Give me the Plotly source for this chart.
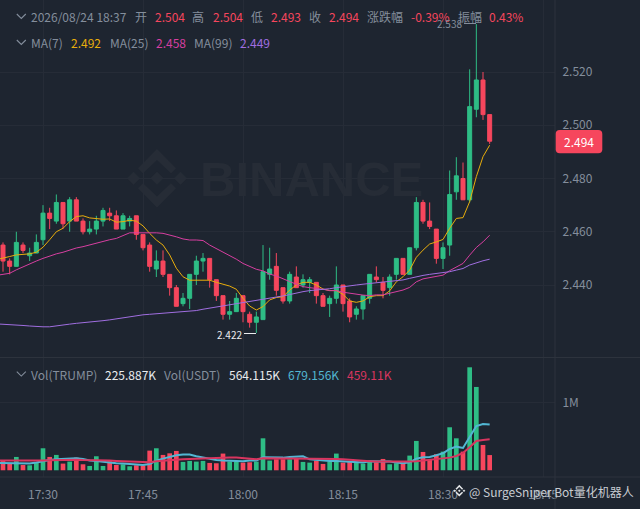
import pandas as pd
import plotly.graph_objects as go

W, H = 640, 509
FONT = 'Noto Sans CJK SC'

BG = '#1e2530'
GRID = '#262c37'
EDGE = '#2d333d'
GRAY = '#848e9c'
GREEN = '#2ebd85'
RED = '#f6465d'

# candles, one per minute from 17:24
opens = [2.455, 2.449, 2.447, 2.455, 2.451, 2.452, 2.457, 2.467, 2.464, 2.471,
         2.464, 2.472, 2.464, 2.460, 2.461, 2.464, 2.467, 2.466, 2.461, 2.464,
         2.466, 2.459, 2.455, 2.446, 2.449, 2.444, 2.439, 2.433, 2.435, 2.444,
         2.449, 2.450, 2.442, 2.436, 2.429, 2.430, 2.436, 2.429, 2.426, 2.427,
         2.444, 2.447, 2.439, 2.434, 2.443, 2.440, 2.441, 2.441, 2.436, 2.433,
         2.435, 2.440, 2.434, 2.429, 2.431, 2.435, 2.443, 2.441, 2.439, 2.444,
         2.450, 2.444, 2.454, 2.471, 2.464, 2.461, 2.450, 2.455, 2.475, 2.480,
         2.472, 2.506, 2.517, 2.504]
highs = [2.456, 2.450, 2.460, 2.456, 2.454, 2.459, 2.470, 2.469, 2.474, 2.471,
         2.473, 2.473, 2.465, 2.464, 2.466, 2.469, 2.469, 2.468, 2.467, 2.466,
         2.466, 2.459, 2.456, 2.453, 2.453, 2.444, 2.440, 2.437, 2.444, 2.451,
         2.452, 2.450, 2.442, 2.436, 2.434, 2.437, 2.436, 2.430, 2.430, 2.455,
         2.454, 2.452, 2.439, 2.445, 2.447, 2.444, 2.443, 2.441, 2.437, 2.436,
         2.447, 2.440, 2.435, 2.432, 2.436, 2.444, 2.447, 2.443, 2.444, 2.450,
         2.450, 2.454, 2.473, 2.472, 2.471, 2.461, 2.456, 2.483, 2.488, 2.486,
         2.521, 2.538, 2.520, 2.504]
lows = [2.445, 2.444, 2.447, 2.452, 2.449, 2.452, 2.455, 2.461, 2.463, 2.461,
        2.460, 2.464, 2.459, 2.459, 2.459, 2.462, 2.464, 2.461, 2.461, 2.462,
        2.457, 2.453, 2.445, 2.443, 2.443, 2.436, 2.432, 2.432, 2.431, 2.440,
        2.445, 2.439, 2.434, 2.427, 2.427, 2.430, 2.426, 2.424, 2.422, 2.427,
        2.442, 2.436, 2.433, 2.433, 2.439, 2.439, 2.437, 2.433, 2.432, 2.428,
        2.433, 2.430, 2.426, 2.427, 2.427, 2.433, 2.441, 2.435, 2.436, 2.442,
        2.444, 2.444, 2.453, 2.463, 2.461, 2.448, 2.446, 2.451, 2.472, 2.472,
        2.471, 2.503, 2.502, 2.493]
closes = [2.449, 2.447, 2.456, 2.453, 2.452, 2.456, 2.467, 2.465, 2.471, 2.463,
          2.472, 2.464, 2.460, 2.461, 2.464, 2.468, 2.466, 2.461, 2.466, 2.465,
          2.459, 2.454, 2.447, 2.449, 2.444, 2.439, 2.432, 2.435, 2.444, 2.449,
          2.450, 2.442, 2.436, 2.429, 2.430, 2.435, 2.430, 2.426, 2.428, 2.445,
          2.446, 2.438, 2.434, 2.444, 2.439, 2.442, 2.442, 2.436, 2.432, 2.435,
          2.440, 2.433, 2.428, 2.431, 2.436, 2.444, 2.442, 2.438, 2.443, 2.450,
          2.444, 2.454, 2.471, 2.464, 2.462, 2.450, 2.454, 2.474, 2.481, 2.472,
          2.507, 2.517, 2.504, 2.494]

# volume in thousands
volumes = [153, 104, 198, 79, 74, 119, 327, 198, 228, 99,
           129, 188, 89, 64, 208, 64, 134, 79, 89, 59,
           74, 69, 292, 327, 228, 252, 287, 124, 139, 129,
           139, 109, 104, 248, 129, 129, 114, 119, 129, 475,
           144, 163, 163, 163, 173, 124, 114, 144, 94, 129,
           248, 114, 129, 129, 99, 129, 119, 168, 89, 104,
           114, 218, 436, 272, 153, 238, 277, 639, 475, 277,
           1530, 1238, 376, 226]

# averages run one minute further left, from 17:23
ma7 = [2.4495, 2.4500, 2.4507, 2.4513, 2.4515, 2.4517, 2.4523, 2.4542, 2.4570, 2.4600,
       2.4613, 2.4638, 2.4657, 2.4660, 2.4652, 2.4650, 2.4647, 2.4648, 2.4636, 2.4638,
       2.4643, 2.4640, 2.4622, 2.4594, 2.4569, 2.4550, 2.4513, 2.4463, 2.4431, 2.4418,
       2.4418, 2.4419, 2.4418, 2.4410, 2.4403, 2.4396, 2.4384, 2.4350, 2.4321, 2.4306,
       2.4319, 2.4344, 2.4353, 2.4356, 2.4381, 2.4400, 2.4410, 2.4410, 2.4400, 2.4385,
       2.4379, 2.4379, 2.4365, 2.4340, 2.4335, 2.4340, 2.4356, 2.4360, 2.4360, 2.4378,
       2.4412, 2.4431, 2.4456, 2.4504, 2.4531, 2.4554, 2.4562, 2.4571, 2.4613, 2.4650,
       2.4653, 2.4713, 2.4807, 2.4882, 2.4925]
ma25 = [2.4436, 2.4440, 2.4444, 2.4457, 2.4469, 2.4479, 2.4490, 2.4500, 2.4509, 2.4517,
        2.4523, 2.4532, 2.4539, 2.4544, 2.4551, 2.4557, 2.4563, 2.4570, 2.4575, 2.4587,
        2.4596, 2.4596, 2.4596, 2.4598, 2.4596, 2.4594, 2.4588, 2.4581, 2.4573, 2.4569,
        2.4569, 2.4567, 2.4550, 2.4537, 2.4522, 2.4510, 2.4497, 2.4481, 2.4469, 2.4459,
        2.4453, 2.4441, 2.4434, 2.4422, 2.4413, 2.4403, 2.4394, 2.4390, 2.4388, 2.4384,
        2.4379, 2.4379, 2.4373, 2.4369, 2.4365, 2.4362, 2.4360, 2.4363, 2.4363, 2.4369,
        2.4375, 2.4381, 2.4391, 2.4412, 2.4423, 2.4428, 2.4431, 2.4437, 2.4454, 2.4466,
        2.4481, 2.4512, 2.4541, 2.4562, 2.4587]
ma99 = [2.4254, 2.4253, 2.4252, 2.4251, 2.4248, 2.4246, 2.4244, 2.4243, 2.4243, 2.4247,
        2.4251, 2.4253, 2.4256, 2.4258, 2.4261, 2.4263, 2.4266, 2.4269, 2.4273, 2.4277,
        2.4282, 2.4286, 2.4288, 2.4290, 2.4292, 2.4294, 2.4295, 2.4298, 2.4299, 2.4300,
        2.4304, 2.4309, 2.4313, 2.4318, 2.4323, 2.4327, 2.4330, 2.4335, 2.4338, 2.4341,
        2.4345, 2.4351, 2.4354, 2.4359, 2.4364, 2.4370, 2.4375, 2.4379, 2.4381, 2.4384,
        2.4386, 2.4390, 2.4394, 2.4398, 2.4400, 2.4403, 2.4406, 2.4409, 2.4411, 2.4414,
        2.4416, 2.4419, 2.4425, 2.4431, 2.4436, 2.4440, 2.4443, 2.4446, 2.4450, 2.4456,
        2.4462, 2.4475, 2.4484, 2.4491, 2.4497]
vol_ma_fast = [109, 109, 104, 99, 99, 99, 114, 139, 153, 163,
               168, 173, 178, 168, 144, 139, 124, 119, 104, 99,
               89, 84, 79, 94, 144, 173, 198, 223, 233, 233,
               208, 188, 173, 153, 144, 139, 139, 134, 144, 144,
               193, 188, 188, 188, 198, 208, 208, 163, 153, 139,
               139, 139, 134, 129, 119, 114, 134, 134, 134, 129,
               114, 104, 119, 173, 193, 198, 223, 252, 317, 351,
               332, 490, 658, 688, 679]
vol_ma_slow = [144, 144, 139, 139, 134, 134, 139, 144, 148, 153,
               153, 158, 158, 153, 153, 153, 148, 144, 139, 134,
               129, 124, 119, 119, 134, 144, 153, 158, 163, 168,
               173, 173, 173, 178, 188, 188, 188, 183, 178, 163,
               178, 178, 173, 168, 173, 178, 178, 173, 173, 168,
               168, 168, 163, 153, 144, 134, 134, 129, 129, 124,
               124, 119, 129, 134, 144, 153, 163, 173, 188, 213,
               257, 342, 436, 450, 460]

price_ticks = [2.44, 2.46, 2.48, 2.50, 2.52]

bar_times = pd.date_range('2026-08-24 17:24', periods=len(closes), freq='min')
ma_times = pd.date_range('2026-08-24 17:23', periods=len(ma7), freq='min')


# pixel helpers, the figure has no margins so paper == window
def px(x):
    return x / W


def py(y):
    return 1 - y / H


def path(points, close=True):
    d = 'M' + ' L'.join(f'{px(x):.5f},{py(y):.5f}' for x, y in points)
    return d + (' Z' if close else '')


def binance_logo(cx, cy, s, color):
    # five pieces of the logo
    out = []
    top = [(0, -29.3), (19, -10), (14, -5), (0, -18.3), (-14, -5), (-19, -10)]
    pieces = [top, [(x, -y) for x, y in top],
              [(-6.5, 0), (0, -6.5), (6.5, 0), (0, 6.5)],
              [(17, 0), (23.5, -6.5), (30, 0), (23.5, 6.5)],
              [(-30, 0), (-23.5, -6.5), (-17, 0), (-23.5, 6.5)]]
    for p in pieces:
        pts = [(cx + s * x, cy + s * y) for x, y in p]
        out.append(dict(type='path', xref='paper', yref='paper', layer='below',
                        path=path(pts), fillcolor=color, line_width=0))
    return out


def label(x, y, text, color=GRAY, size=12, family=FONT, anchor='left'):
    return dict(xref='paper', yref='paper', x=px(x), y=py(y), text=text, showarrow=False,
                xanchor=anchor, yanchor='middle', font=dict(family=family, size=size, color=color),
                borderpad=0, borderwidth=0)


fig = go.Figure()

fig.add_trace(go.Candlestick(x=bar_times, open=opens, high=highs, low=lows, close=closes,
                             increasing=dict(line=dict(color=GREEN, width=1), fillcolor=GREEN),
                             decreasing=dict(line=dict(color=RED, width=1), fillcolor=RED),
                             xaxis='x', yaxis='y', showlegend=False))
fig.add_trace(go.Scatter(x=ma_times, y=ma7, mode='lines', line=dict(color='#e8ad0c', width=1),
                         xaxis='x', yaxis='y', showlegend=False))
fig.add_trace(go.Scatter(x=ma_times, y=ma25, mode='lines', line=dict(color='#d63fa0', width=1),
                         xaxis='x', yaxis='y', showlegend=False))
fig.add_trace(go.Scatter(x=ma_times, y=ma99, mode='lines', line=dict(color='#a06ee0', width=1),
                         xaxis='x', yaxis='y', showlegend=False))

bar_colors = [GREEN if c >= o else RED for o, c in zip(opens, closes)]
fig.add_trace(go.Bar(x=bar_times, y=[v * 1000 for v in volumes], marker=dict(color=bar_colors, line_width=0),
                     xaxis='x2', yaxis='y2', showlegend=False))
fig.add_trace(go.Scatter(x=ma_times, y=[v * 1000 for v in vol_ma_fast], mode='lines',
                         line=dict(color='#52b7d3', width=2), xaxis='x2', yaxis='y2', showlegend=False))
fig.add_trace(go.Scatter(x=ma_times, y=[v * 1000 for v in vol_ma_slow], mode='lines',
                         line=dict(color='#d9355f', width=2), xaxis='x2', yaxis='y2', showlegend=False))

# 17:30 sits at 43px, 15 minutes are 100px
x_start = pd.Timestamp('2026-08-24 17:30') - pd.Timedelta(minutes=43 * 0.15)
x_end = pd.Timestamp('2026-08-24 17:30') + pd.Timedelta(minutes=512 * 0.15)
x_common = dict(range=[x_start, x_end], domain=[0, 555 / W], type='date', rangeslider=dict(visible=False),
                tick0='2026-08-24 17:30', dtick=900000, showgrid=True, gridcolor=GRID, gridwidth=1,
                zeroline=False, fixedrange=True)

shapes = binance_logo(157, 178.3, 1, '#262c36')
# panel separators
shapes += [dict(type='line', xref='paper', yref='paper', x0=px(555), x1=px(555), y0=0, y1=1,
                line=dict(color=EDGE, width=1)),
           dict(type='line', xref='paper', yref='paper', x0=0, x1=1, y0=py(357.5), y1=py(357.5),
                line=dict(color=EDGE, width=1)),
           dict(type='line', xref='paper', yref='paper', x0=0, x1=1, y0=py(477), y1=py(477),
                line=dict(color=EDGE, width=1))]
# folding arrows in the legend rows
for yy in [14, 40, 371.7]:
    shapes.append(dict(type='path', xref='paper', yref='paper',
                       path=path([(16.8, yy), (21.3, yy + 4.4), (25.8, yy)], close=False),
                       line=dict(color=GRAY, width=1.1)))
# high / low markers
shapes.append(dict(type='line', xref='paper', yref='paper', x0=px(464), x1=px(476), y0=py(23.5), y1=py(23.5),
                   line=dict(color=GRAY, width=1)))
shapes.append(dict(type='line', xref='paper', yref='paper', x0=px(244), x1=px(256), y0=py(333.5), y1=py(333.5),
                   line=dict(color='#eaecef', width=1)))
# last price tag
r = 4
l, t, rt, b = 555.7, 130, 602.3, 153.3
tag = (f'M{px(l + r):.5f},{py(t):.5f} L{px(rt - r):.5f},{py(t):.5f} '
       f'Q{px(rt):.5f},{py(t):.5f} {px(rt):.5f},{py(t + r):.5f} L{px(rt):.5f},{py(b - r):.5f} '
       f'Q{px(rt):.5f},{py(b):.5f} {px(rt - r):.5f},{py(b):.5f} L{px(l + r):.5f},{py(b):.5f} '
       f'Q{px(l):.5f},{py(b):.5f} {px(l):.5f},{py(b - r):.5f} L{px(l):.5f},{py(t + r):.5f} '
       f'Q{px(l):.5f},{py(t):.5f} {px(l + r):.5f},{py(t):.5f} Z')
shapes.append(dict(type='path', xref='paper', yref='paper', path=tag, fillcolor=RED, line_width=0))
# small logo of the author mark
shapes += [dict(s, layer='above') for s in binance_logo(459.3, 490.7, 0.2, '#e6e8ea')]

annotations = [
    label(31, 16.5, '2026/08/24 18:37'),
    label(135, 16.5, '开'), label(155, 16.5, '2.504', RED),
    label(192, 16.5, '高'), label(213, 16.5, '2.504', RED),
    label(251, 16.5, '低'), label(271, 16.5, '2.493', RED),
    label(309, 16.5, '收'), label(328.5, 16.5, '2.494', RED),
    label(367, 16.5, '涨跌幅'), label(411, 16.5, '-0.39%', RED),
    label(457.7, 16.5, '振幅'), label(489, 16.5, '0.43%', RED),
    label(31, 42.5, 'MA(7)'), label(71, 42.5, '2.492', '#e8ad0c'),
    label(110, 42.5, 'MA(25)'), label(156, 42.5, '2.458', '#d63fa0'),
    label(194, 42.5, 'MA(99)'), label(240, 42.5, '2.449', '#a06ee0'),
    label(31, 374, 'Vol(TRUMP)'), label(105, 374, '225.887K', '#eaecef'),
    label(164, 374, 'Vol(USDT)'), label(229, 374, '564.115K', '#eaecef'),
    label(288, 374, '679.156K', '#52b7d3'), label(347, 374, '459.11K', '#d9355f'),
    label(437, 24, '2.538', GRAY, 10),
    label(216.5, 334, '2.422', '#eaecef', 10),
    label(578.5, 142, '2.494', '#ffffff', 12, anchor='center'),
    label(200, 178.5, 'BINANCE', '#262c36', 49, 'Liberation Sans'),
    label(469, 491, '@ SurgeSniper Bot量化机器人', '#c8ccd2', 12),
]
annotations[-2]['font']['weight'] = 'bold'

fig.update_layout(
    width=W, height=H, autosize=False,
    margin=dict(l=0, r=0, t=0, b=0, pad=0, autoexpand=False),
    paper_bgcolor=BG, plot_bgcolor=BG,
    hovermode=False, bargap=0.3, boxgap=0.2, boxgroupgap=0.25,
    font=dict(family=FONT, size=12, color=GRAY),
    xaxis=dict(x_common, anchor='y', showticklabels=False, ticks=''),
    xaxis2=dict(x_common, anchor='y2', tickformat='%H:%M', ticks='outside', ticklen=7, tickcolor='rgba(0,0,0,0)',
                tickfont=dict(color=GRAY, size=12)),
    yaxis=dict(domain=[1 - 357 / H, 1], range=[2.41296, 2.54704], side='right', anchor='x',
               tickvals=price_ticks, tickformat='.3f', gridcolor=GRID, zeroline=False, fixedrange=True,
               ticks='outside', ticklen=4, tickcolor='rgba(0,0,0,0)', tickfont=dict(color=GRAY, size=12)),
    yaxis2=dict(domain=[1 - 477 / H, 1 - 357 / H], range=[-100000, 1683000], side='right', anchor='x2',
                tickvals=[1000000], ticktext=['1M'], gridcolor=GRID, zeroline=False, fixedrange=True,
                ticks='outside', ticklen=4, tickcolor='rgba(0,0,0,0)', tickfont=dict(color=GRAY, size=12)),
    shapes=shapes,
    annotations=annotations,
)

# the page has a default body margin that would push the figure off the window
fig.write_html("out.html", config=dict(displayModeBar=False),
               post_script="document.body.style.margin='0';document.body.style.overflow='hidden';")
